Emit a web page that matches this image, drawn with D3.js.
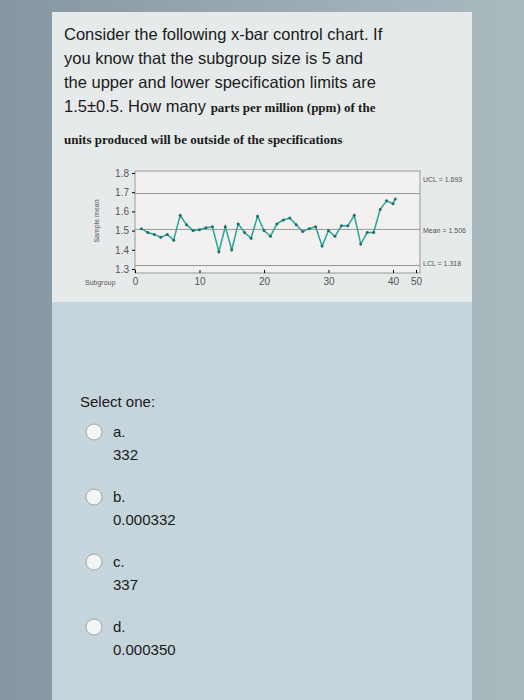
<!DOCTYPE html>
<html><head><meta charset="utf-8">
<script src="https://cdn.jsdelivr.net/npm/d3@7"></script>
<style>body{margin:0;background:#7d8c96;}</style>
</head><body>
<div id="vis"></div>
<script>
// data
const subgroups = d3.range(1, 42);
const means = [1.51,1.49,1.48,1.465,1.48,1.45,1.58,1.53,1.50,1.505,1.515,1.52,1.39,1.52,1.40,1.535,1.49,1.46,1.575,1.50,
               1.47,1.535,1.555,1.565,1.53,1.495,1.51,1.52,1.42,1.50,1.47,1.525,1.525,1.58,1.43,1.49,1.49,1.61,1.655,1.64,1.665];
const yTicks = [1.3,1.4,1.5,1.6,1.7,1.8];
const xTicks = [0,10,20,30,40,50];
const limits = [{name:'UCL', v:1.693, label:'UCL = 1.693'},{name:'Mean', v:1.506, label:'Mean = 1.506'},{name:'LCL', v:1.318, label:'LCL = 1.318'}];
const options = [{k:'a.', v:'332'},{k:'b.', v:'0.000332'},{k:'c.', v:'337'},{k:'d.', v:'0.000350'}];

const W = 524, H = 700;
const svg = d3.select('#vis').append('svg').attr('width', W).attr('height', H);

// screen background
const bg = svg.append('defs').append('linearGradient').attr('id','bg').attr('x1',0).attr('x2',1);
bg.append('stop').attr('offset','0').attr('stop-color','#8797a2');
bg.append('stop').attr('offset','1').attr('stop-color','#a9bbbf');
svg.append('rect').attr('width', W).attr('height', H).attr('fill','url(#bg)');
svg.append('rect').attr('x',52).attr('y',300).attr('width',420).attr('height',400).attr('fill','#c6d4dc');
svg.append('rect').attr('x',52).attr('y',12).attr('width',420).attr('height',290).attr('fill','#e6eaea');

// question text
const q = svg.append('g').style('font-family','Liberation Sans, Arial').style('font-size','16.5px').attr('fill','#1a1a1a');
['Consider the following x-bar control chart. If','you know that the subgroup size is 5 and','the upper and lower specification limits are']
  .forEach((t,i) => q.append('text').attr('x',64).attr('y',40 + i*24).text(t));
const l4 = q.append('text').attr('x',64).attr('y',112);
l4.append('tspan').text('1.5±0.5. How many ');
l4.append('tspan').style('font-family','Liberation Serif, Times').style('font-size','13px').style('font-weight','bold').text('parts per million (ppm) of the');
q.append('text').attr('x',64).attr('y',144).style('font-family','Liberation Serif, Times').style('font-size','13px').style('font-weight','bold')
  .text('units produced will be outside of the specifications');

// chart
const x = d3.scaleLinear().domain([0,40,50]).range([135,393,416]);
const y = d3.scaleLinear().domain([1.3,1.8]).range([269,173]);
const c = svg.append('g').style('font-family','Liberation Sans, Arial').style('font-size','7px').attr('fill','#555');
c.append('rect').attr('x',135).attr('y',171).attr('width',285).attr('height',102).attr('fill','#f3f1ef').attr('stroke','#999');
c.append('g').attr('transform','translate(135,0)').call(d3.axisLeft(y).tickValues(yTicks).tickSize(3).tickFormat(d3.format('.1f')))
  .call(g => g.select('.domain').remove()).call(g => g.selectAll('text').attr('fill','#555'));
c.append('g').attr('transform','translate(0,273)').call(d3.axisBottom(x).tickValues(xTicks).tickSize(-3))
  .call(g => g.select('.domain').remove()).call(g => g.selectAll('text').attr('fill','#555').attr('dy','0.9em'));
limits.forEach(l => {
  c.append('line').attr('x1',135).attr('x2',420).attr('y1',y(l.v)).attr('y2',y(l.v)).attr('stroke','#999');
  c.append('text').attr('x',423).attr('y',y(l.v) - (l.name=='UCL'?12:l.name=='Mean'?-4:0)).text(l.label);
});
c.append('path').datum(means).attr('fill','none').attr('stroke','#2aa39a').attr('stroke-width',1.5)
  .attr('d', d3.line().x((d,i) => x(subgroups[i])).y(d => y(d)));
c.selectAll('circle.pt').data(means).join('circle').attr('class','pt')
  .attr('cx',(d,i) => x(subgroups[i])).attr('cy', d => y(d)).attr('r',1.5).attr('fill','#1f6f6a');
c.append('text').attr('transform','translate(99,221) rotate(-90)').attr('text-anchor','middle').text('Sample mean');
c.append('text').attr('x',85).attr('y',285).text('Subgroup');

// answers
const a = svg.append('g').style('font-family','Liberation Sans, Arial').style('font-size','15px').attr('fill','#1a1a1a');
a.append('text').attr('x',80).attr('y',407).text('Select one:');
options.forEach((o,i) => {
  const y0 = 432 + i*65;
  a.append('circle').attr('cx',94).attr('cy',y0).attr('r',8).attr('fill','#f4f4f4').attr('stroke','#9aa');
  a.append('text').attr('x',113).attr('y',y0+5).text(o.k);
  a.append('text').attr('x',113).attr('y',y0+28).text(o.v);
});
</script>
</body></html>
